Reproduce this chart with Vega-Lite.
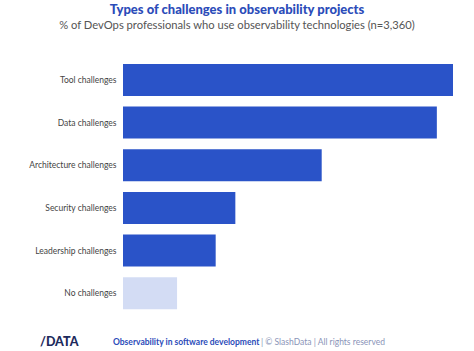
{
  "$schema": "https://vega.github.io/schema/vega-lite/v6.json",
  "width": 330,
  "height": 256,
  "autosize": "none",
  "padding": {"left": 123, "top": 58.6, "right": 21, "bottom": 36.4},
  "background": "white",
  "config": {"view": {"stroke": null}, "font": "Lato"},
  "title": {
    "text": "Types of challenges in observability projects",
    "subtitle": "% of DevOps professionals who use observability technologies (n=3,360)",
    "anchor": "middle",
    "frame": "group",
    "dx": -51,
    "offset": 27,
    "font": "Lato",
    "fontSize": 13,
    "fontWeight": 900,
    "color": "#2b4cb9",
    "subtitleFont": "Lato",
    "subtitleFontSize": 11.2,
    "subtitleColor": "#555555",
    "subtitlePadding": 3
  },
  "layer": [
    {
      "data": {
        "values": [
          {"challenge": "Tool challenges", "share": 47.0, "group": "challenge"},
          {"challenge": "Data challenges", "share": 44.7, "group": "challenge"},
          {"challenge": "Architecture challenges", "share": 28.3, "group": "challenge"},
          {"challenge": "Security challenges", "share": 16.0, "group": "challenge"},
          {"challenge": "Leadership challenges", "share": 13.2, "group": "challenge"},
          {"challenge": "No challenges", "share": 7.7, "group": "none"}
        ]
      },
      "mark": {"type": "bar"},
      "encoding": {
        "y": {
          "field": "challenge",
          "type": "nominal",
          "sort": null,
          "scale": {"paddingInner": 0.25, "paddingOuter": 0.125},
          "axis": {
            "title": null,
            "domain": false,
            "ticks": false,
            "labelPadding": 7,
            "labelFontSize": 8.5,
            "labelColor": "#444444",
            "labelFont": "Lato"
          }
        },
        "x": {
          "field": "share",
          "type": "quantitative",
          "scale": {"domain": [0, 47], "nice": false},
          "axis": null
        },
        "color": {
          "field": "group",
          "type": "nominal",
          "scale": {"domain": ["challenge", "none"], "range": ["#2a53c8", "#d3dcf4"]},
          "legend": null
        }
      }
    },
    {
      "data": {"values": [{"t": "/DATA"}]},
      "mark": {"type": "text", "align": "left", "baseline": "middle", "font": "Lato", "fontSize": 12.5, "fontWeight": 900, "color": "#1d2a5c", "x": -83, "y": 283},
      "encoding": {"text": {"field": "t"}}
    },
    {
      "data": {"values": [{"t": "Observability in software development"}]},
      "mark": {"type": "text", "align": "left", "baseline": "middle", "font": "Lato", "fontSize": 8.5, "fontWeight": "bold", "color": "#2b4cb9", "x": -10, "y": 283},
      "encoding": {"text": {"field": "t"}}
    },
    {
      "data": {"values": [{"t": "| © SlashData | All rights reserved"}]},
      "mark": {"type": "text", "align": "left", "baseline": "middle", "font": "Lato", "fontSize": 8.5, "color": "#8a94b8", "x": 138, "y": 283},
      "encoding": {"text": {"field": "t"}}
    }
  ]
}
